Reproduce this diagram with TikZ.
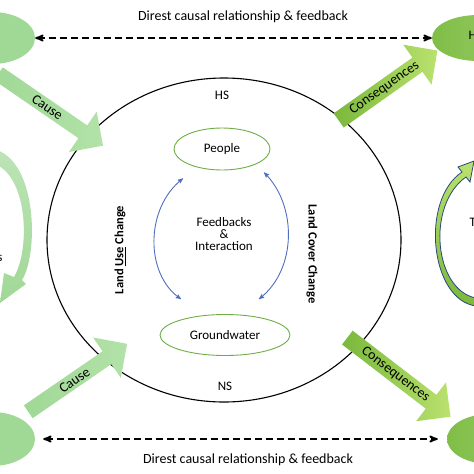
\documentclass[tikz,border=0pt]{standalone}
\usepackage{fontspec}
\setmainfont{Carlito}
\usetikzlibrary{positioning,shapes.geometric,shapes.arrows,arrows}

\definecolor{causegreen}{RGB}{160,216,150}
\definecolor{causelight}{RGB}{178,226,168}
\definecolor{consdark}{RGB}{122,184,60}
\definecolor{conslight}{RGB}{186,226,110}
\definecolor{ovalgreen}{RGB}{128,190,70}
\definecolor{innergreen}{RGB}{112,173,71}
\definecolor{fbblue}{RGB}{80,110,190}
\definecolor{arcblue}{RGB}{45,70,130}

\begin{document}
\begin{tikzpicture}[%
    x=1pt, y=-1pt,
    >=stealth', font=\fontsize{13}{15}\selectfont,
    inner/.style={ellipse, draw=innergreen, line width=0.9pt},
    sideoval/.style={ellipse, inner sep=0pt},
    blockarrow/.style={single arrow, minimum height=#1, minimum width=49pt,
        single arrow head extend=12.5pt, inner sep=1pt, font=\fontsize{14}{16}\selectfont},
    fb/.style={<->, draw=fbblue, line width=0.9pt},
    dashlink/.style={<->, line width=1.8pt, dash pattern=on 7pt off 4pt},
    biglabel/.style={font=\fontsize{14}{16}\selectfont}
  ]
    \useasboundingbox (0,0) rectangle (474,474);

    % big system circle
    \node[ellipse, draw, line width=1.1pt, minimum width=354pt, minimum height=324pt] (sys) at (224,240) {};

    % outer ovals
    \node[sideoval, fill=causegreen, minimum width=86pt, minimum height=52pt] (tl) at (-8,38) {};
    \node[sideoval, fill=causegreen, minimum width=86pt, minimum height=54pt] (bl) at (-8,439) {};
    \node[sideoval, left color=ovalgreen, right color=ovalgreen!80!white, minimum width=92pt, minimum height=46pt] (tr) at (478,38) {};
    \node[sideoval, left color=ovalgreen, right color=ovalgreen!80!white, minimum width=86pt, minimum height=50pt] (br) at (490,439) {};
    \node[anchor=west] (trtext) at (465,35) {H};

    % inner parts
    \node[inner, minimum width=96pt, minimum height=42pt] (people) at (222,149) {People};
    \node[inner, minimum width=130pt, minimum height=41pt] (ground) at (225,335) {Groundwater};
    \node[above=24pt of people] (hs) {HS};
    \node[below=23pt of ground] (ns) {NS};
    \node[align=center] (fbtext) at (224,234) {Feedbacks\\[-3pt]\&\\[-3pt]Interaction};
    \node[rotate=90, font=\fontsize{12.5}{14}\selectfont\bfseries] (luc) at (120,250) {Land \underline{Use} Change};
    \node[rotate=-90, font=\fontsize{12.5}{14}\selectfont\bfseries] (lcc) at (312,254) {Land Cover Change};

    \draw[fb] ([xshift=-39pt,yshift=-8pt]people.south) .. controls +(-38,30) and +(-36,-25) .. ([xshift=-44pt,yshift=15pt]ground.north);
    \draw[fb] ([xshift=42pt,yshift=-2pt]people.south) .. controls +(33,33) and +(38,-30) .. ([xshift=34pt,yshift=15pt]ground.north);

    % block arrows
    \node[blockarrow=127pt, left color=causegreen, right color=causelight, rotate=-34.5] (cause1) at (47.5,107.5) {Cause};
    \node[blockarrow=120pt, left color=causegreen, right color=causelight, rotate=34.5] (cause2) at (74.5,380) {Cause};
    \node[blockarrow=121pt, left color=consdark, right color=conslight, rotate=35.3] (cons1) at (384.5,88) {Consequences};
    \node[blockarrow=130pt, left color=consdark, right color=conslight, rotate=-37.5] (cons2) at (395.5,374.5) {Consequences};

    % dashed links
    \draw[dashlink] (tl.east) -- (tr.west);
    \draw[dashlink, shorten <=8pt, shorten >=9pt] (bl.east) -- (br.west);
    \node[biglabel] (toplbl) at (243,17) {Direst causal relationship \& feedback};
    \node[biglabel] (botlbl) at (248,460) {Direst causal relationship \& feedback};

    % curved side arrows
    \shade[top color=causegreen!70!white, bottom color=causegreen] (-3,150) .. controls (38,165) and (38,255) .. (22,280) -- (26,284) -- (0,303) -- (4,273) -- (14,277) .. controls (30,250) and (28,180) .. (-3,165) -- cycle;
    \node[anchor=east] (ltext) at (6,258) {s};
    \shade[draw=arcblue, line width=0.8pt, top color=conslight, bottom color=consdark] (476,306) .. controls (430,300) and (420,200) .. (462,172) -- (458,167) -- (474,161) -- (470,182) -- (466,177) .. controls (426,205) and (434,290) .. (476,298) -- cycle;
    \node[anchor=west] (rtext) at (466,222) {T};
\end{tikzpicture}
\end{document}
